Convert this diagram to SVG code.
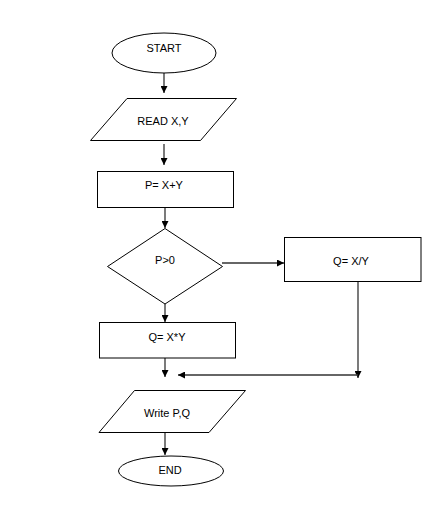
<svg xmlns="http://www.w3.org/2000/svg" width="428" height="517" viewBox="0 0 428 517">
<style>
.s{fill:#fff;stroke:#000;stroke-width:1}
.t{font-family:"Liberation Sans",Arial,sans-serif;font-size:11px;fill:#000;text-anchor:middle;dominant-baseline:central}
.c{fill:none;stroke:#333;stroke-width:1.3}
</style>
<defs>
<marker id="a" viewBox="0 0 10 10" refX="10" refY="5" markerWidth="7" markerHeight="7" markerUnits="userSpaceOnUse" orient="auto">
<path d="M0,0 L10,5 L0,10 Z" fill="#000"/>
</marker>
</defs>
<rect width="428" height="517" fill="#fff"/>
<g id="connectors">
<line class="c" x1="164" y1="73" x2="164" y2="93" marker-end="url(#a)"/>
<line class="c" x1="164" y1="144" x2="164" y2="165" marker-end="url(#a)"/>
<line class="c" x1="165" y1="207" x2="165" y2="228" marker-end="url(#a)"/>
<line class="c" x1="222" y1="263" x2="284" y2="263" marker-end="url(#a)"/>
<line class="c" x1="165" y1="304" x2="165" y2="322" marker-end="url(#a)"/>
<line class="c" x1="165" y1="358" x2="165" y2="377" marker-end="url(#a)"/>
<line class="c" x1="358" y1="282" x2="358" y2="378" marker-end="url(#a)"/>
<line class="c" x1="358" y1="375" x2="178" y2="375" marker-end="url(#a)"/>
<line class="c" x1="165" y1="432" x2="165" y2="455" marker-end="url(#a)"/>
</g>
<g id="start">
<ellipse class="s" cx="164" cy="53" rx="52" ry="20"/>
<text class="t" x="164" y="48">START</text>
</g>
<g id="read">
<polygon class="s" points="127,98.5 236.5,98.5 200.5,140.5 90.5,140.5"/>
<text class="t" x="163" y="121">READ X,Y</text>
</g>
<g id="sum">
<rect class="s" x="97.5" y="171.5" width="136" height="36"/>
<text class="t" x="164" y="185">P= X+Y</text>
</g>
<g id="decision">
<polygon class="s" points="165,228.5 222.5,266.5 165,304 107.5,266.5"/>
<text class="t" x="165" y="260">P&gt;0</text>
</g>
<g id="div">
<rect class="s" x="284.5" y="237.5" width="136.5" height="44"/>
<text class="t" x="351" y="261">Q= X/Y</text>
</g>
<g id="mul">
<rect class="s" x="99.5" y="322.5" width="136" height="35.5"/>
<text class="t" x="167" y="337">Q= X*Y</text>
</g>
<g id="write">
<polygon class="s" points="134.5,390.5 245.5,390.5 209,432.5 99,432.5"/>
<text class="t" x="167" y="413">Write P,Q</text>
</g>
<g id="end">
<ellipse class="s" cx="171" cy="471" rx="52.5" ry="15"/>
<text class="t" x="170" y="470">END</text>
</g>
</svg>
